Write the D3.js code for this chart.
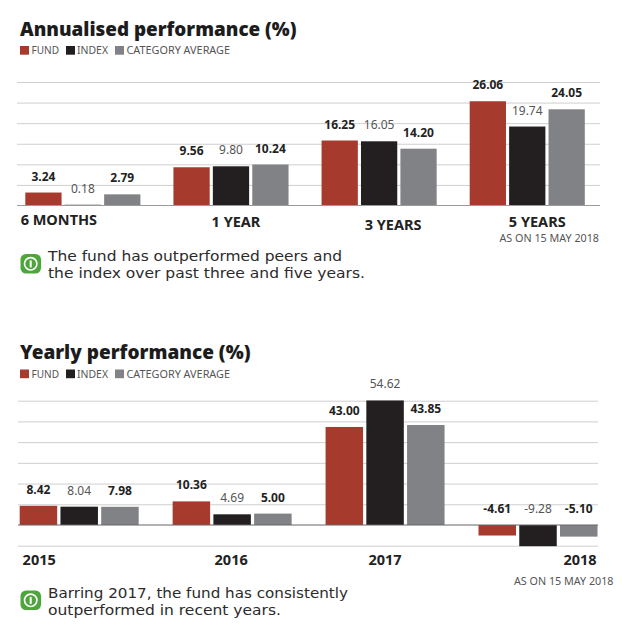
<!DOCTYPE html>
<html>
<head>
<meta charset="utf-8">
<script src="https://cdnjs.cloudflare.com/ajax/libs/d3/7.8.5/d3.min.js"></script>
<style>
body { margin: 0; background: #fff; }
text { font-family: "Noto Sans", sans-serif; }
</style>
</head>
<body>
<svg id="chart" width="630" height="629"></svg>
<script>
// data
var seriesNames = ["FUND", "INDEX", "CATEGORY AVERAGE"];

var annualCats = ["6 MONTHS", "1 YEAR", "3 YEARS", "5 YEARS"];
var annualFund = [3.24, 9.56, 16.25, 26.06];
var annualIndex = [0.18, 9.80, 16.05, 19.74];
var annualAvg = [2.79, 10.24, 14.20, 24.05];

var yearlyCats = ["2015", "2016", "2017", "2018"];
var yearlyFund = [8.42, 10.36, 43.00, -4.61];
var yearlyIndex = [8.04, 4.69, 54.62, -9.28];
var yearlyAvg = [7.98, 5.00, 43.85, -5.10];

var colors = ["#a53a2d", "#231f20", "#808285"];
// d3.format gives a real minus sign, the picture has a plain hyphen
var fmt = function(v) { return d3.format(".2f")(v).replace("\u2212", "-"); };
var svg = d3.select("#chart");

// one panel = title, legend, gridlines, bars, labels, note
function drawPanel(p) {
  var g = svg.append("g");

  g.append("text")
    .attr("x", 20).attr("y", p.titleY)
    .attr("font-size", 20).attr("font-weight", 900).attr("fill", "#1c1c1c")
    .attr("textLength", p.titleW).attr("lengthAdjust", "spacingAndGlyphs")
    .text(p.title);

  // legend
  var legendX = [20, 66, 115], legendTextX = [31.5, 77, 126.5], legendW = [27.5, 31, 103.5];
  seriesNames.forEach(function(name, i) {
    g.append("rect")
      .attr("x", legendX[i]).attr("y", p.titleY + 10.5)
      .attr("width", 9).attr("height", 8.7)
      .attr("fill", colors[i]);
    g.append("text")
      .attr("x", legendTextX[i]).attr("y", p.titleY + 18.5)
      .attr("font-size", 10.5).attr("fill", "#555")
      .attr("textLength", legendW[i]).attr("lengthAdjust", "spacingAndGlyphs")
      .text(name);
  });

  // gridlines are not tied to the bar scale in the original
  var gridY = d3.scaleLinear().domain([0, 6]).range([p.zeroY, p.gridTop]);
  g.append("g")
    .attr("transform", "translate(" + p.gridX0 + ",0)")
    .call(d3.axisLeft(gridY).tickValues(p.gridTicks).tickSize(-(p.gridX1 - p.gridX0)).tickFormat(""))
    .call(function(s) { s.select(".domain").remove(); })
    .selectAll("line").attr("stroke", "#cfcfcf").attr("stroke-width", 1);

  var x0 = d3.scaleBand().domain(p.cats).range(p.xRange).paddingInner(p.groupPad);
  var x1 = d3.scaleBand().domain(d3.range(3)).range([0, x0.bandwidth()]).paddingInner(0.08);
  var y = d3.scaleLinear().domain([0, 10]).range([p.zeroY, p.zeroY - p.unit * 10]);

  p.cats.forEach(function(cat, c) {
    var vals = [p.fund[c], p.index[c], p.avg[c]];
    var grp = g.append("g").attr("transform", "translate(" + x0(cat) + ",0)");

    grp.selectAll("rect").data(vals).enter().append("rect")
      .attr("x", function(d, i) { return x1(i); })
      .attr("y", function(d) { return y(Math.max(d, 0)); })
      .attr("width", x1.bandwidth())
      .attr("height", function(d) { return Math.abs(y(d) - y(0)); })
      .attr("fill", function(d, i) { return colors[i]; });

    // labels always sit above the bar, negative ones above the zero line
    grp.selectAll("text").data(vals).enter().append("text")
      .attr("x", function(d, i) { return x1(i) + x1.bandwidth() / 2; })
      .attr("y", function(d) { return y(Math.max(d, 0)) - 12; })
      .attr("text-anchor", "middle")
      .attr("font-size", 12)
      .attr("font-weight", function(d, i) { return i == 1 ? 400 : 700; })
      .attr("fill", function(d, i) { return i == 1 ? "#555" : "#222"; })
      .text(function(d) { return fmt(d); });
  });

  // zero line
  g.append("line")
    .attr("x1", p.gridX0).attr("x2", p.gridX1)
    .attr("y1", y(0)).attr("y2", y(0))
    .attr("stroke", p.zeroColor).attr("stroke-width", 1.2);

  // category names, hand placed in the original so nudged per tick
  g.append("g")
    .attr("transform", "translate(0," + p.zeroY + ")")
    .call(d3.axisBottom(x0).tickSize(0))
    .call(function(s) { s.select(".domain").remove(); })
    .selectAll("text")
    .attr("dx", function(d, i) { return p.catDx[i]; })
    .attr("y", 0)
    .attr("dy", function(d, i) { return p.catDy[i]; })
    .attr("font-family", '"Noto Sans", sans-serif')
    .attr("font-size", 14.5).attr("font-weight", 700).attr("fill", "#222");

  g.append("text")
    .attr("x", p.asOnX).attr("y", p.asOnY)
    .attr("font-size", 10).attr("fill", "#555")
    .attr("textLength", 99.5).attr("lengthAdjust", "spacingAndGlyphs")
    .text("AS ON 15 MAY 2018");

  // note with the green info badge
  var badge = g.append("g").attr("transform", "translate(20.5," + p.noteY + ")");
  badge.append("rect").attr("width", 20.5).attr("height", 19.5).attr("rx", 5.5).attr("fill", "#4ea53c");
  badge.append("circle").attr("cx", 10.2).attr("cy", 9.8).attr("r", 6.2)
    .attr("fill", "none").attr("stroke", "#fff").attr("stroke-width", 1.6);
  badge.append("rect").attr("x", 9.2).attr("y", 6.4).attr("width", 2).attr("height", 7).attr("fill", "#fff");

  p.note.forEach(function(line, i) {
    g.append("text")
      .attr("x", 48).attr("y", p.noteY + 7 + i * 17)
      .style("font-family", '"DejaVu Sans", sans-serif')
      .attr("font-size", 14).attr("fill", "#2b2b2b")
      .attr("textLength", p.noteW[i]).attr("lengthAdjust", "spacingAndGlyphs")
      .text(line);
  });
}

drawPanel({
  title: "Annualised performance (%)", titleY: 35.5, titleW: 276.5,
  cats: annualCats, fund: annualFund, index: annualIndex, avg: annualAvg,
  xRange: [25.3, 584.8], groupPad: 0.223, zeroY: 205.5, unit: 4.0,
  gridX0: 17, gridX1: 600, gridTop: 82, gridTicks: [1, 2, 3, 4, 5, 6], zeroColor: "#9a9a9a",
  catDx: [-24, 5, 14, 10], catDy: [19.5, 21.5, 24.5, 21],
  asOnX: 499.5, asOnY: 242,
  noteY: 254, noteW: [294, 317],
  note: ["The fund has outperformed peers and", "the index over past three and five years."]
});

drawPanel({
  title: "Yearly performance (%)", titleY: 359, titleW: 230.5,
  cats: yearlyCats, fund: yearlyFund, index: yearlyIndex, avg: yearlyAvg,
  xRange: [19.7, 597.5], groupPad: 0.222, zeroY: 525, unit: 2.28,
  gridX0: 18, gridX1: 598, gridTop: 400.7, gridTicks: [-1, 1, 2, 3, 4, 5, 6], zeroColor: "#666",
  catDx: [-40, -1, 0, 42], catDy: [40, 40, 40, 40],
  asOnX: 514, asOnY: 585,
  noteY: 590.5, noteW: [300, 233],
  note: ["Barring 2017, the fund has consistently", "outperformed in recent years."]
});
</script>
</body>
</html>
